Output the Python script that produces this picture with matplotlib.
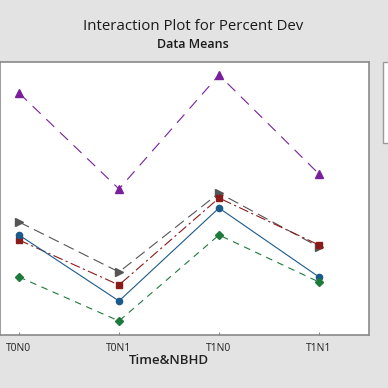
import matplotlib
matplotlib.use("Agg")
import matplotlib.pyplot as plt
from matplotlib.patches import Rectangle

categories = ["T0N0", "T0N1", "T1N0", "T1N1"]
purple_vals = [24.2, 14.6, 26.0, 16.1]
gray_vals = [11.3, 6.3, 14.2, 8.8]
red_vals = [9.5, 5.0, 13.7, 9.0]
blue_vals = [10.0, 3.4, 12.7, 5.8]
green_vals = [5.8, 1.4, 10.0, 5.3]

plt.rcParams['font.family'] = ['Open Sans', 'DejaVu Sans']
bg = '#e3e3e3'
fig = plt.figure(figsize=(3.88, 3.88), dpi=100, facecolor=bg)
ax = fig.add_axes([0.0, 1 - 335/388, 369/388, (335-62)/388])
ax.set_facecolor('white')

x = list(range(len(categories)))
series = [
    (purple_vals, '#7a1f9c', '#7a1f9c', '^', (0, (10, 7)), 6),
    (gray_vals, '#555555', '#555555', '>', (0, (10, 5)), 6),
    (red_vals, '#8b1a1a', '#8b1a1a', 's', (0, (9, 3, 2, 3)), 4.5),
    (blue_vals, '#1b5a8a', '#1b5a8a', 'o', '-', 4.5),
    (green_vals, '#1e7a3a', '#1e7a3a', 'D', (0, (6, 5)), 4),
]
for vals, lc, mc, m, ls, ms in series:
    ax.plot(x, vals, color=lc, linestyle=ls, linewidth=0.8, marker=m,
            markersize=ms, markerfacecolor=mc, markeredgecolor=mc)

ax.set_xlim(-0.19, 3.5)
ax.set_ylim(0, 27.3)
ax.set_xticks(x)
ax.set_xticklabels(categories, fontsize=7.5, fontweight='medium', color='#222222')
ax.set_yticks([])
ax.tick_params(axis='x', direction='in', length=2, pad=6, color='#888888')
for s in ax.spines.values():
    s.set_color('#8a8a8a')
    s.set_linewidth(1.2)
ax.set_xlabel("Time&NBHD", fontsize=9.5, fontweight='semibold', color='#222222', labelpad=3)
ax.xaxis.set_label_coords(169/369, -0.07)
ax.xaxis.label.set_va('top')

fig.text(193/388, 1 - 27/388, "Interaction Plot for Percent Dev", ha='center', va='center',
         fontsize=10.8, color='#1a1a1a')
fig.text(193/388, 1 - 44/388, "Data Means", ha='center', va='center',
         fontsize=9, fontweight='semibold', color='#1a1a1a')

fig.patches.append(Rectangle((383/388, 1 - 143/388), 10/388, 81/388, transform=fig.transFigure,
                             facecolor='white', edgecolor='#9a9a9a', linewidth=1))

fig.savefig("out.png", dpi=100, facecolor=bg)
